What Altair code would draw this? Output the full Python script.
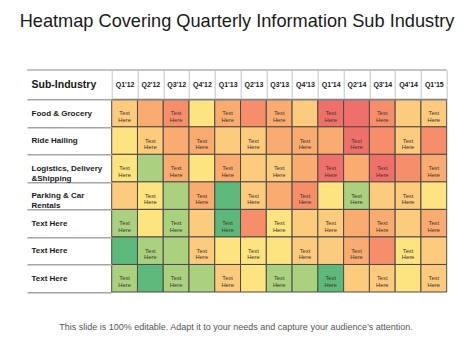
import altair as alt
import pandas as pd

quarters = ["Q1'12", "Q2'12", "Q3'12", "Q4'12", "Q1'13", "Q2'13", "Q3'13",
            "Q4'13", "Q1'14", "Q2'14", "Q3'14", "Q4'14", "Q1'15"]
sub_industries = ["Food & Grocery", "Ride Hailing", "Logistics, Delivery|&Shipping",
                  "Parking & Car|Rentals", "Text Here", "Text Here", "Text Here"]
# heat level per cell: 1 = green ... 7 = red
levels = [
    [4, 5, 6, 3, 5, 6, 5, 4, 7, 7, 6, 4, 4],
    [3, 4, 5, 5, 4, 4, 5, 5, 5, 7, 6, 4, 6],
    [3, 2, 5, 3, 5, 4, 4, 5, 7, 5, 7, 6, 5],
    [4, 3, 2, 5, 1, 4, 5, 6, 3, 2, 4, 4, 3],
    [2, 3, 2, 4, 1, 6, 3, 4, 4, 5, 5, 4, 5],
    [1, 2, 2, 4, 3, 3, 3, 4, 4, 5, 6, 3, 4],
    [2, 1, 2, 2, 4, 3, 2, 2, 1, 4, 4, 3, 4],
]
level_colors = ["#5cb97b", "#a9d17f", "#fee381", "#fdcb7d", "#f9ab70", "#f68e6b", "#ef6f6a"]
cell_label = "Text\nHere"
title_text = "Heatmap Covering Quarterly Information Sub Industry"
footer_text = "This slide is 100% editable. Adapt it to your needs and capture your audience\u2019s attention."

rows = []
for r, row_levels in enumerate(levels):
    for c, q in enumerate(quarters):
        rows.append({"row": r, "quarter": q, "level": row_levels[c],
                     "label": cell_label if (r + c) % 2 == 0 else ""})
df = pd.DataFrame(rows)

W, H = 335, 192.7
FONT = "Liberation Sans"
names_js = "[" + ",".join("'" + n + "'" for n in sub_industries) + "]"
n_rows = len(sub_industries)

x_enc = alt.X("quarter:N", sort=quarters,
              scale=alt.Scale(paddingInner=0, paddingOuter=0),
              axis=alt.Axis(orient="top", title=None, tickBand="extent",
                            tickSize=29.3, tickColor="#c4c4c4", tickWidth=1,
                            labelPadding=-14.7, labelBaseline="middle", labelAngle=0,
                            labelFont=FONT, labelFontWeight="bold", labelFontSize=7,
                            labelColor="#1a1a1a", labelOverlap=False,
                            labelExpr="isValid(datum.value) ? datum.label : ''",
                            domainColor="#7f7f7f", domainWidth=1.5))
y_enc = alt.Y("row:O",
              scale=alt.Scale(paddingInner=0, paddingOuter=0),
              axis=alt.Axis(title="Sub-Industry", titleAngle=0, titleX=-80.7, titleY=-14.6,
                            titleAlign="left", titleBaseline="middle", titleFont=FONT,
                            titleFontSize=10.5, titleFontWeight="bold", titleColor="#1a1a1a",
                            tickBand="extent", tickSize=84.7, tickColor="#a6a6a6", tickWidth=1.5,
                            domain=False, labelAlign="left", labelBaseline="middle",
                            labelPadding=-4,
                            labelExpr="isValid(datum.value) && datum.value >= 0 && datum.value < "
                                      + str(n_rows) + " ? split(" + names_js
                                      + "[datum.value], '|') : ''",
                            labelFont=FONT, labelFontSize=8, labelFontWeight="bold",
                            labelColor="#1a1a1a", labelLineHeight=10, labelOverlap=False))

cells = alt.Chart(df).mark_rect(stroke="#4d4a45", strokeWidth=1).encode(
    x=x_enc, y=y_enc,
    color=alt.Color("level:O", scale=alt.Scale(domain=list(range(1, 8)), range=level_colors),
                    legend=None),
)
texts = alt.Chart(df).mark_text(font=FONT, fontSize=5.8, lineBreak="\n", lineHeight=6.7,
                                color="#45352c", baseline="middle").encode(
    x=alt.X("quarter:N", sort=quarters), y=alt.Y("row:O"), text="label:N")

deco = alt.Data(values=[{"t": title_text, "f": footer_text}])
top_line = alt.Chart(deco).mark_rule(color="#8c8c8c", strokeWidth=1.2).encode(
    x=alt.value(-84.7), x2=alt.value(W), y=alt.value(-29.3))
title = alt.Chart(deco).mark_text(font=FONT, fontSize=18.2, color="#1a1a1a",
                                  align="center", baseline="alphabetic").encode(
    x=alt.value(125.3), y=alt.value(-72.3), text="t:N")
footer = alt.Chart(deco).mark_text(font=FONT, fontSize=9, color="#555555",
                                   align="center", baseline="alphabetic").encode(
    x=alt.value(124.3), y=alt.value(230.7), text="f:N")

chart = alt.layer(cells, texts, top_line, title, footer).properties(
    width=W, height=H,
    autosize=alt.AutoSizeParams(type="none"),
    padding={"left": 103.7, "top": 91.3, "right": 19.3, "bottom": 55},
    background="white",
).configure_view(stroke=None)

chart.save("out.html", embed_options={"renderer": "svg", "actions": False})
